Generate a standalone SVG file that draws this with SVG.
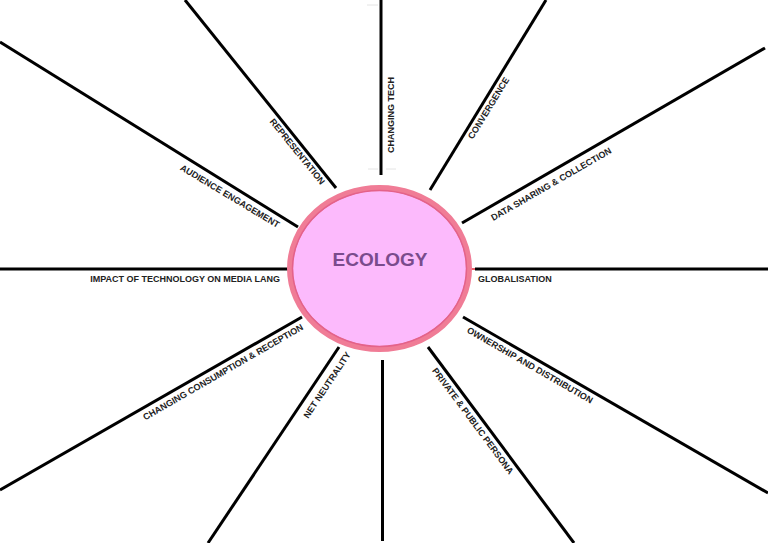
<svg xmlns="http://www.w3.org/2000/svg" width="768" height="543" viewBox="0 0 768 543">
<style>
.ln{stroke:#000;stroke-width:3;fill:none;stroke-linecap:butt}
.tk{stroke:#e4e4e4;stroke-width:1;fill:none}
.lb{font-family:"Liberation Sans",Arial,sans-serif;font-size:9px;font-weight:bold;fill:#222}
</style>
<rect width="768" height="543" fill="#fff"/>
<g id="connectors">
<line class="tk" x1="367" y1="5" x2="378" y2="5"/>
<line class="tk" x1="368" y1="169" x2="378" y2="169"/>
<line class="tk" x1="386" y1="169" x2="396" y2="169"/>
<line class="ln" x1="381" y1="0" x2="381" y2="175"/>
<line class="ln" x1="185" y1="0" x2="336" y2="188"/>
<line class="ln" x1="0" y1="42" x2="298" y2="227"/>
<line class="ln" x1="0" y1="269" x2="290" y2="269"/>
<line class="ln" x1="0" y1="490" x2="302" y2="317"/>
<line class="ln" x1="339" y1="347" x2="208" y2="543"/>
<line class="ln" x1="382.5" y1="360" x2="382.5" y2="541"/>
<line class="ln" x1="428" y1="347" x2="574" y2="543"/>
<line class="ln" x1="463" y1="317" x2="768" y2="493"/>
<line class="ln" x1="475" y1="269" x2="768" y2="269"/>
<line x1="466" y1="269" x2="475" y2="269" stroke="#e0303c" stroke-width="1.5"/>
<line class="ln" x1="430" y1="190" x2="546" y2="0"/>
<line class="ln" x1="462" y1="223" x2="765" y2="48"/>
</g>
<g id="node-ecology">
<ellipse cx="379.5" cy="268.5" rx="89.5" ry="80.5" fill="#fcbafc" stroke="#f07c96" stroke-width="6"/>
<ellipse cx="379.5" cy="268.5" rx="87" ry="78" fill="none" stroke="#e4628a" stroke-width="1.5"/>
<text x="380" y="266" text-anchor="middle" font-family="'Liberation Sans',Arial,sans-serif" font-size="19" font-weight="bold" fill="#7a4b8c">ECOLOGY</text>
</g>
<g id="labels">
<text class="lb" transform="translate(390.5,115) rotate(-90)" text-anchor="middle" y="3.2">CHANGING TECH</text>
<text class="lb" transform="translate(297.5,151.5) rotate(51)" text-anchor="middle" y="3.2">REPRESENTATION</text>
<text class="lb" transform="translate(230,196) rotate(31)" text-anchor="middle" y="3.2">AUDIENCE ENGAGEMENT</text>
<text class="lb" x="280" y="282" text-anchor="end">IMPACT OF TECHNOLOGY ON MEDIA LANG</text>
<text class="lb" transform="translate(223,372) rotate(-30)" text-anchor="middle" y="3.2">CHANGING CONSUMPTION &amp; RECEPTION</text>
<text class="lb" transform="translate(327,385) rotate(-56.3)" text-anchor="middle" y="3.2">NET NEUTRALITY</text>
<text class="lb" transform="translate(473,421) rotate(53.4)" text-anchor="middle" y="3.2">PRIVATE &amp; PUBLIC PERSONA</text>
<text class="lb" transform="translate(530,365) rotate(30)" text-anchor="middle" y="3.2">OWNERSHIP AND DISTRIBUTION</text>
<text class="lb" x="478" y="282">GLOBALISATION</text>
<text class="lb" transform="translate(551,184) rotate(-30)" text-anchor="middle" y="3.2">DATA SHARING &amp; COLLECTION</text>
<text class="lb" transform="translate(488.5,108) rotate(-58.6)" text-anchor="middle" y="3.2">CONVERGENCE</text>
</g>
</svg>
